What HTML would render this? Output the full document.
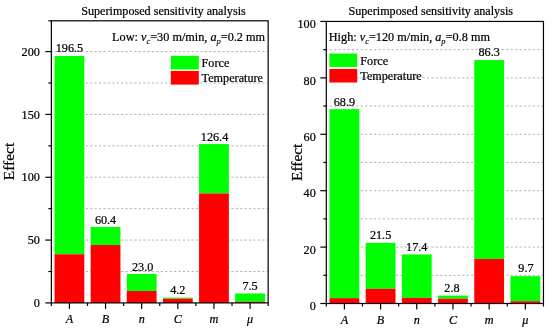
<!DOCTYPE html>
<html><head><meta charset="utf-8"><title>Superimposed sensitivity analysis</title>
<style>
html,body{margin:0;padding:0;background:#fff;}
svg{display:block;}
.t{font-family:"Liberation Serif","Times New Roman",serif;font-size:12.2px;fill:#000;stroke:#000;stroke-width:0.22px;}
.i{font-style:italic;}
.sub{font-size:8.6px;stroke-width:0.1px;}
.an{font-size:12.22px;}
.ti{font-size:12.15px;}
.yl{font-family:"Liberation Serif","Times New Roman",serif;font-size:15.4px;fill:#000;stroke:#000;stroke-width:0.22px;}
.g{stroke:#b2b2b2;stroke-width:1;stroke-dasharray:2.2 2.21;stroke-dashoffset:0.83;fill:none;}
.ax{fill:none;stroke:#000;stroke-width:1.2;}
.tk{stroke:#000;stroke-width:1.2;fill:none;}
</style></head><body>
<svg width="550" height="331" viewBox="0 0 550 331">
<rect x="0" y="0" width="550" height="331" fill="#ffffff"/>
<line x1="51.35" y1="271.49" x2="268.15" y2="271.49" class="g"/>
<line x1="51.35" y1="240.07" x2="268.15" y2="240.07" class="g"/>
<line x1="51.35" y1="208.66" x2="268.15" y2="208.66" class="g"/>
<line x1="51.35" y1="177.25" x2="268.15" y2="177.25" class="g"/>
<line x1="51.35" y1="145.84" x2="268.15" y2="145.84" class="g"/>
<line x1="51.35" y1="114.42" x2="268.15" y2="114.42" class="g"/>
<line x1="51.35" y1="83.01" x2="268.15" y2="83.01" class="g"/>
<line x1="51.35" y1="51.60" x2="268.15" y2="51.60" class="g"/>
<rect x="54.52" y="56.00" width="29.80" height="198.28" fill="#00ff00"/>
<rect x="54.52" y="254.27" width="29.80" height="48.63" fill="#ff0000"/>
<text x="69.42" y="52.10" class="t" text-anchor="middle">196.5</text>
<rect x="90.65" y="227.01" width="29.80" height="17.97" fill="#00ff00"/>
<rect x="90.65" y="244.98" width="29.80" height="57.92" fill="#ff0000"/>
<text x="105.55" y="223.51" class="t" text-anchor="middle">60.4</text>
<rect x="126.78" y="274.00" width="29.80" height="16.96" fill="#00ff00"/>
<rect x="126.78" y="290.96" width="29.80" height="11.94" fill="#ff0000"/>
<text x="142.68" y="270.90" class="t" text-anchor="middle">23.0</text>
<rect x="162.92" y="297.62" width="29.80" height="1.13" fill="#00ff00"/>
<rect x="162.92" y="298.75" width="29.80" height="4.15" fill="#ff0000"/>
<text x="177.82" y="294.32" class="t" text-anchor="middle">4.2</text>
<rect x="199.05" y="144.08" width="29.80" height="49.38" fill="#00ff00"/>
<rect x="199.05" y="193.46" width="29.80" height="109.44" fill="#ff0000"/>
<text x="214.55" y="140.58" class="t" text-anchor="middle">126.4</text>
<rect x="235.18" y="293.48" width="29.80" height="8.29" fill="#00ff00"/>
<rect x="235.18" y="301.77" width="29.80" height="1.13" fill="#ff0000"/>
<text x="250.08" y="289.58" class="t" text-anchor="middle">7.5</text>
<rect x="51.35" y="20.80" width="216.80" height="282.10" class="ax"/>
<line x1="45.35" y1="302.90" x2="51.35" y2="302.90" class="tk"/>
<text x="39.85" y="307.00" class="t" text-anchor="end">0</text>
<line x1="45.35" y1="240.07" x2="51.35" y2="240.07" class="tk"/>
<text x="39.85" y="244.17" class="t" text-anchor="end">50</text>
<line x1="45.35" y1="177.25" x2="51.35" y2="177.25" class="tk"/>
<text x="39.85" y="181.35" class="t" text-anchor="end">100</text>
<line x1="45.35" y1="114.42" x2="51.35" y2="114.42" class="tk"/>
<text x="39.85" y="118.52" class="t" text-anchor="end">150</text>
<line x1="45.35" y1="51.60" x2="51.35" y2="51.60" class="tk"/>
<text x="39.85" y="55.70" class="t" text-anchor="end">200</text>
<line x1="48.35" y1="271.49" x2="51.35" y2="271.49" class="tk"/>
<line x1="48.35" y1="208.66" x2="51.35" y2="208.66" class="tk"/>
<line x1="48.35" y1="145.84" x2="51.35" y2="145.84" class="tk"/>
<line x1="48.35" y1="83.01" x2="51.35" y2="83.01" class="tk"/>
<line x1="48.35" y1="20.80" x2="51.35" y2="20.80" class="tk"/>
<line x1="69.42" y1="302.90" x2="69.42" y2="308.90" class="tk"/>
<text x="69.42" y="323.30" class="t i" text-anchor="middle">A</text>
<line x1="105.55" y1="302.90" x2="105.55" y2="308.90" class="tk"/>
<text x="105.55" y="323.30" class="t i" text-anchor="middle">B</text>
<line x1="141.68" y1="302.90" x2="141.68" y2="308.90" class="tk"/>
<text x="141.68" y="323.30" class="t i" text-anchor="middle">n</text>
<line x1="177.82" y1="302.90" x2="177.82" y2="308.90" class="tk"/>
<text x="177.82" y="323.30" class="t i" text-anchor="middle">C</text>
<line x1="213.95" y1="302.90" x2="213.95" y2="308.90" class="tk"/>
<text x="213.95" y="323.30" class="t i" text-anchor="middle">m</text>
<line x1="250.08" y1="302.90" x2="250.08" y2="308.90" class="tk"/>
<text x="250.08" y="323.30" class="t i" text-anchor="middle">μ</text>
<line x1="51.35" y1="302.90" x2="51.35" y2="305.90" class="tk"/>
<line x1="87.48" y1="302.90" x2="87.48" y2="305.90" class="tk"/>
<line x1="123.62" y1="302.90" x2="123.62" y2="305.90" class="tk"/>
<line x1="159.75" y1="302.90" x2="159.75" y2="305.90" class="tk"/>
<line x1="195.88" y1="302.90" x2="195.88" y2="305.90" class="tk"/>
<line x1="232.02" y1="302.90" x2="232.02" y2="305.90" class="tk"/>
<line x1="268.15" y1="302.90" x2="268.15" y2="305.90" class="tk"/>
<text x="163.50" y="15.00" class="t ti" text-anchor="middle">Superimposed sensitivity analysis</text>
<text transform="translate(14.30,161.50) rotate(-90)" class="yl" text-anchor="middle">Effect</text>
<text x="112.10" y="41.40" class="t an">Low: <tspan class="i">v</tspan><tspan class="i sub" dy="2.9">c</tspan><tspan dy="-2.9">=30 m/min, </tspan><tspan class="i">a</tspan><tspan class="i sub" dy="2.9">p</tspan><tspan dy="-2.9">=0.2 mm</tspan></text>
<rect x="170.80" y="55.80" width="28.00" height="13.70" fill="#00ff00"/>
<rect x="170.80" y="70.90" width="28.00" height="13.70" fill="#ff0000"/>
<text x="201.60" y="67.00" class="t">Force</text>
<text x="201.60" y="81.60" class="t">Temperature</text>
<line x1="326.30" y1="275.30" x2="543.45" y2="275.30" class="g"/>
<line x1="326.30" y1="247.09" x2="543.45" y2="247.09" class="g"/>
<line x1="326.30" y1="218.88" x2="543.45" y2="218.88" class="g"/>
<line x1="326.30" y1="190.68" x2="543.45" y2="190.68" class="g"/>
<line x1="326.30" y1="162.47" x2="543.45" y2="162.47" class="g"/>
<line x1="326.30" y1="134.27" x2="543.45" y2="134.27" class="g"/>
<line x1="326.30" y1="106.06" x2="543.45" y2="106.06" class="g"/>
<line x1="326.30" y1="77.86" x2="543.45" y2="77.86" class="g"/>
<line x1="326.30" y1="49.66" x2="543.45" y2="49.66" class="g"/>
<rect x="329.50" y="109.17" width="29.80" height="188.97" fill="#00ff00"/>
<rect x="329.50" y="298.14" width="29.80" height="5.36" fill="#ff0000"/>
<text x="344.40" y="105.57" class="t" text-anchor="middle">68.9</text>
<rect x="365.69" y="242.86" width="29.80" height="45.97" fill="#00ff00"/>
<rect x="365.69" y="288.83" width="29.80" height="14.67" fill="#ff0000"/>
<text x="380.59" y="239.26" class="t" text-anchor="middle">21.5</text>
<rect x="401.88" y="254.42" width="29.80" height="43.44" fill="#00ff00"/>
<rect x="401.88" y="297.86" width="29.80" height="5.64" fill="#ff0000"/>
<text x="416.78" y="250.82" class="t" text-anchor="middle">17.4</text>
<rect x="438.07" y="295.60" width="29.80" height="3.10" fill="#00ff00"/>
<rect x="438.07" y="298.71" width="29.80" height="4.79" fill="#ff0000"/>
<text x="451.97" y="292.00" class="t" text-anchor="middle">2.8</text>
<rect x="474.26" y="60.09" width="29.80" height="198.85" fill="#00ff00"/>
<rect x="474.26" y="258.94" width="29.80" height="44.56" fill="#ff0000"/>
<text x="489.16" y="56.49" class="t" text-anchor="middle">86.3</text>
<rect x="510.45" y="276.14" width="29.80" height="25.10" fill="#00ff00"/>
<rect x="510.45" y="301.24" width="29.80" height="2.26" fill="#ff0000"/>
<text x="525.95" y="271.54" class="t" text-anchor="middle">9.7</text>
<rect x="326.30" y="21.45" width="217.15" height="282.05" class="ax"/>
<line x1="320.30" y1="303.50" x2="326.30" y2="303.50" class="tk"/>
<text x="315.80" y="310.30" class="t" text-anchor="end">0</text>
<line x1="320.30" y1="247.09" x2="326.30" y2="247.09" class="tk"/>
<text x="315.80" y="253.89" class="t" text-anchor="end">20</text>
<line x1="320.30" y1="190.68" x2="326.30" y2="190.68" class="tk"/>
<text x="315.80" y="197.48" class="t" text-anchor="end">40</text>
<line x1="320.30" y1="134.27" x2="326.30" y2="134.27" class="tk"/>
<text x="315.80" y="141.07" class="t" text-anchor="end">60</text>
<line x1="320.30" y1="77.86" x2="326.30" y2="77.86" class="tk"/>
<text x="315.80" y="84.66" class="t" text-anchor="end">80</text>
<line x1="320.30" y1="21.45" x2="326.30" y2="21.45" class="tk"/>
<text x="315.80" y="28.25" class="t" text-anchor="end">100</text>
<line x1="323.30" y1="275.30" x2="326.30" y2="275.30" class="tk"/>
<line x1="323.30" y1="218.88" x2="326.30" y2="218.88" class="tk"/>
<line x1="323.30" y1="162.47" x2="326.30" y2="162.47" class="tk"/>
<line x1="323.30" y1="106.06" x2="326.30" y2="106.06" class="tk"/>
<line x1="323.30" y1="49.66" x2="326.30" y2="49.66" class="tk"/>
<line x1="344.40" y1="303.50" x2="344.40" y2="309.50" class="tk"/>
<text x="344.40" y="323.60" class="t i" text-anchor="middle">A</text>
<line x1="380.59" y1="303.50" x2="380.59" y2="309.50" class="tk"/>
<text x="380.59" y="323.60" class="t i" text-anchor="middle">B</text>
<line x1="416.78" y1="303.50" x2="416.78" y2="309.50" class="tk"/>
<text x="416.78" y="323.60" class="t i" text-anchor="middle">n</text>
<line x1="452.97" y1="303.50" x2="452.97" y2="309.50" class="tk"/>
<text x="452.97" y="323.60" class="t i" text-anchor="middle">C</text>
<line x1="489.16" y1="303.50" x2="489.16" y2="309.50" class="tk"/>
<text x="489.16" y="323.60" class="t i" text-anchor="middle">m</text>
<line x1="525.35" y1="303.50" x2="525.35" y2="309.50" class="tk"/>
<text x="525.35" y="323.60" class="t i" text-anchor="middle">μ</text>
<line x1="326.30" y1="303.50" x2="326.30" y2="306.50" class="tk"/>
<line x1="362.49" y1="303.50" x2="362.49" y2="306.50" class="tk"/>
<line x1="398.68" y1="303.50" x2="398.68" y2="306.50" class="tk"/>
<line x1="434.88" y1="303.50" x2="434.88" y2="306.50" class="tk"/>
<line x1="471.07" y1="303.50" x2="471.07" y2="306.50" class="tk"/>
<line x1="507.26" y1="303.50" x2="507.26" y2="306.50" class="tk"/>
<line x1="543.45" y1="303.50" x2="543.45" y2="306.50" class="tk"/>
<text x="430.75" y="15.00" class="t ti" text-anchor="middle">Superimposed sensitivity analysis</text>
<text transform="translate(302.00,162.30) rotate(-90)" class="yl" text-anchor="middle">Effect</text>
<text x="328.80" y="41.00" class="t an">High: <tspan class="i">v</tspan><tspan class="i sub" dy="2.9">c</tspan><tspan dy="-2.9">=120 m/min, </tspan><tspan class="i">a</tspan><tspan class="i sub" dy="2.9">p</tspan><tspan dy="-2.9">=0.8 mm</tspan></text>
<rect x="329.40" y="53.50" width="27.80" height="13.60" fill="#00ff00"/>
<rect x="329.40" y="68.90" width="27.80" height="13.60" fill="#ff0000"/>
<text x="360.30" y="64.60" class="t">Force</text>
<text x="360.30" y="79.60" class="t">Temperature</text>
</svg>
</body></html>
